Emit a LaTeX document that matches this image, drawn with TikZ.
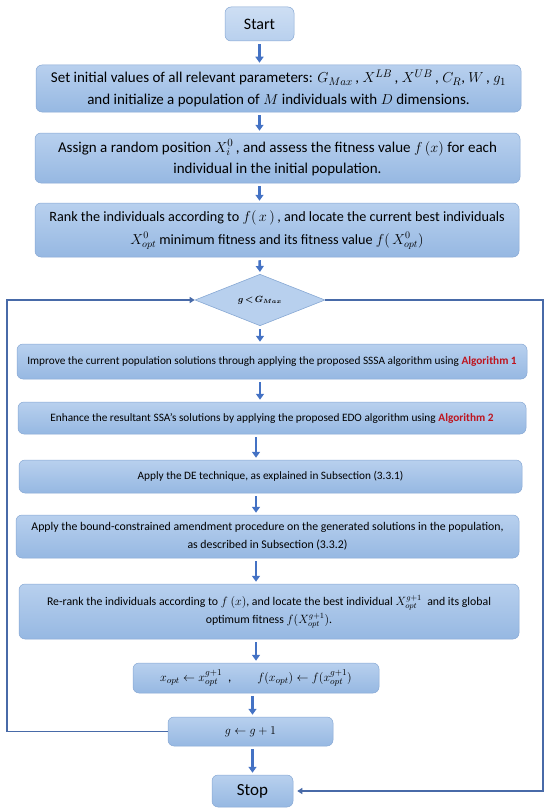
\documentclass[tikz,border=0pt]{standalone}
\usepackage{bm}
\usepackage{fontspec}
\setmainfont{Carlito}
\usetikzlibrary{shapes.geometric,arrows.meta}
\definecolor{boxtop}{RGB}{184,208,238}
\definecolor{boxbot}{RGB}{150,184,226}
\definecolor{boxedge}{RGB}{135,168,212}
\definecolor{flowblue}{RGB}{68,114,196}
\definecolor{loopblue}{RGB}{72,106,168}
\definecolor{algred}{RGB}{190,20,30}
\begin{document}
\begin{tikzpicture}[x=1pt,y=-1pt,
  box/.style={draw=boxedge, line width=0.5pt, rounded corners=6pt, top color=boxtop, bottom color=boxbot, align=center, inner sep=2pt},
  bigtext/.style={font=\fontsize{15}{21.5}\selectfont},
  smalltext/.style={font=\fontsize{11.3}{15}\selectfont},
  midtext/.style={font=\fontsize{11.8}{18}\selectfont},
  flow/.style={-{Triangle[width=8pt,length=6pt]}, line width=2.6pt, draw=flowblue, shorten <=3pt, shorten >=2pt},
  loopline/.style={line width=1.2pt, draw=loopblue}]
\useasboundingbox (0,0) rectangle (550,808);
\node[box, font=\fontsize{16}{18}\selectfont, minimum width=69pt, minimum height=34pt, top color=boxtop!70!white, bottom color=boxtop] (start) at (259.5,24) {Start};
\node[box, bigtext, minimum width=485pt, minimum height=47pt] (init) at (278.5,88.5) {Set initial values of all relevant parameters: $G_{Max}$\,, $X^{LB}$\,, $X^{UB}$\,, $C_R$, $W$\,, $g_1$\\ and initialize a population of $M$ individuals with $D$ dimensions.};
\node[box, bigtext, minimum width=485pt, minimum height=50pt] (assign) at (277.5,158) {Assign a random position $X_i^0$\,, and assess the fitness value $f\,(x)$ for each\\ individual in the initial population.};
\node[box, font=\fontsize{14.2}{23}\selectfont, minimum width=484pt, minimum height=54pt] (rank) at (277,230) {Rank the individuals according to $f(\,x\,)$\,, and locate the current best individuals\\ $X^0_{opt}$ minimum fitness and its fitness value $f(\,X^0_{opt})$};
\node[diamond, draw=boxedge, line width=0.6pt, fill=boxtop, inner sep=0pt, minimum width=130pt, minimum height=44pt, font=\small] (test) at (260,300) {$\bm{g\,{<}\,G_{Max}}$};
\node[box, smalltext, minimum width=510pt, minimum height=35pt] (improve) at (272,361.5) {Improve the current population solutions through applying the proposed SSSA algorithm using \textbf{\color{algred}Algorithm 1}};
\node[box, smalltext, minimum width=508pt, minimum height=32pt] (enhance) at (272,418) {Enhance the resultant SSA’s solutions by applying the proposed EDO algorithm using \textbf{\color{algred}Algorithm 2}};
\node[box, smalltext, minimum width=503pt, minimum height=33pt] (detech) at (270.5,476.5) {Apply the DE technique, as explained in Subsection (3.3.1)};
\node[box, midtext, minimum width=503pt, minimum height=43pt] (bound) at (267.5,536.5) {Apply the bound-constrained amendment procedure on the generated solutions in the population,\\ as described in Subsection (3.3.2)};
\node[box, midtext, minimum width=500pt, minimum height=55pt] (rerank) at (269,611.5) {Re-rank the individuals according to $f\ (x)$, and locate the best individual $X^{g+1}_{opt}$ \ and its global\\ optimum fitness $f(X^{g+1}_{opt})$.};
\node[box, font=\fontsize{13}{15}\selectfont, minimum width=246pt, minimum height=30pt] (xopt) at (256,678) {$x_{opt} \leftarrow x^{g+1}_{opt}$\ \ ,\qquad $f(x_{opt}) \leftarrow f(x^{g+1}_{opt})$};
\node[box, font=\fontsize{13}{15}\selectfont, minimum width=165pt, minimum height=29pt] (incr) at (250.5,731.5) {$g \leftarrow g+1$};
\node[box, font=\fontsize{17}{19}\selectfont, minimum width=81pt, minimum height=32pt] (stop) at (252.5,791) {Stop};
\coordinate (lft) at (7,0);
\coordinate (rgt) at (543,0);
\draw[flow] (start.south) -- (init.north -| start);
\draw[flow] (init.south -| start) -- (assign.north -| start);
\draw[flow] (assign.south -| start) -- (rank.north -| start);
\draw[flow] (rank.south -| start) -- (test.north);
\draw[flow] (test.south) -- (improve.north -| test);
\draw[flow] (improve.south -| test) -- (enhance.north -| test);
\draw[flow] (enhance.south -| xopt) -- (detech.north -| xopt);
\draw[flow] (detech.south -| xopt) -- (bound.north -| xopt);
\draw[flow] (bound.south -| xopt) -- (rerank.north -| xopt);
\draw[flow] (rerank.south -| xopt) -- (xopt.north);
\draw[flow] (xopt.south -| stop) -- (incr.north -| stop);
\draw[flow] (incr.south -| stop) -- (stop.north);
\draw[loopline, -{Triangle[width=6pt,length=5pt]}] (incr.west) -| (lft |- test) -- (test.west);
\draw[loopline, -{Triangle[width=6pt,length=5pt]}] (test.east) -| (rgt |- stop) -- ([xshift=4pt]stop.east);
\end{tikzpicture}
\end{document}
